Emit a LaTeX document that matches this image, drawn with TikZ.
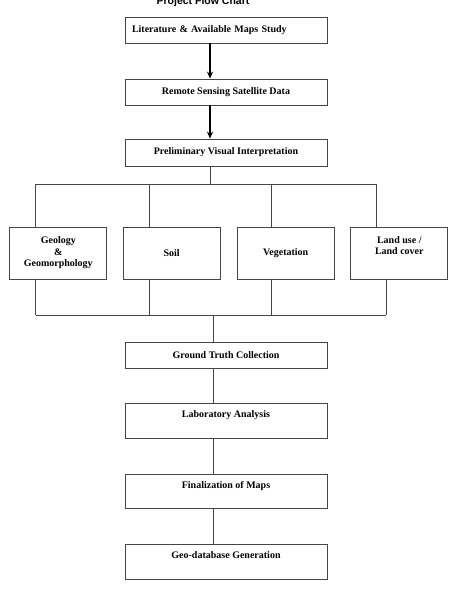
\documentclass[tikz,border=0pt]{standalone}
\usepackage{fontspec}
\setmainfont{Liberation Serif}
\newfontfamily\titlefont{Liberation Sans}
\usetikzlibrary{arrows.meta,positioning}
\definecolor{linegray}{RGB}{70,70,70}

\begin{document}
\begin{tikzpicture}[x=1pt,y=-1pt,
    box/.style={draw=linegray,line width=0.8pt,rectangle,minimum width=202pt,
      minimum height=26pt,inner sep=0pt,font=\fontsize{10}{11.5}\selectfont\bfseries},
    topbox/.style={box,anchor=north,minimum height=0pt,inner ysep=5pt,
      text height=9.5pt,text depth=15.5pt},
    theme/.style={box,minimum width=97pt,minimum height=52pt,align=center},
    link/.style={draw=linegray,line width=0.8pt},
    flow/.style={draw=black,line width=1.3pt,-{Stealth[length=7pt,width=6pt]}}]
    \useasboundingbox (0,0) rectangle (450,591);
    % Titel (oben abgeschnitten)
    \node[anchor=base,font=\titlefont\fontsize{10.5}{12}\selectfont\bfseries] (title) at (203,5) {Project Flow Chart};
    % Vorarbeiten
    \node[box,text width=188pt,inner xsep=7pt,align=left] (lit) at (226,30) {Literature \& Available Maps Study};
    \node[box] (remote) at (226,92) {Remote Sensing Satellite Data};
    \node[box,minimum height=27pt] (prelim) at (226,152.5) {Preliminary Visual Interpretation};
    \coordinate (split) at (210,184);
    \draw[flow] (lit.south -| split) -- (remote.north -| split);
    \draw[flow] (remote.south -| split) -- (prelim.north -| split);
    % Themen
    \node[theme] (geo) at (58.3,253) {Geology\\\&\\Geomorphology};
    \node[theme] (soil) at (171.7,253) {Soil};
    \node[theme] (veg) at (285.7,253) {Vegetation};
    \node[theme,text depth=15pt] (land) at (399.3,253) {Land use /\\Land cover};
    \draw[link] (prelim.south -| split) -- (split);
    \draw[link] ([xshift=-22.6pt]geo.north |- split) -- ([xshift=-22.6pt]land.north |- split);
    \coordinate (merge) at (213,315);
    \draw[link] ([xshift=-22.6pt]geo.south |- merge) -- ([xshift=-13.3pt]land.south |- merge);
    \foreach \t/\up/\down in {geo/-22.6/-22.6,soil/-22.7/-22.7,veg/-14/-14,land/-22.6/-13.3}{
      \draw[link] ([xshift=\up pt]\t.north) -- ([xshift=\up pt]\t.north |- split);
      \draw[link] ([xshift=\down pt]\t.south) -- ([xshift=\down pt]\t.south |- merge);
    }
    % Feldarbeit und Ergebnisse
    \node[box] (ground) at (226,355) {Ground Truth Collection};
    \node[topbox] (lab) at (226,403) {Laboratory Analysis};
    \node[topbox,text depth=14.5pt] (final) at (226,474) {Finalization of Maps};
    \node[topbox] (geodb) at (226,544) {Geo-database Generation};
    \draw[link] (merge) -- (ground.north -| merge);
    \draw[link] (ground.south -| merge) -- (lab.north -| merge);
    \draw[link] (lab.south -| merge) -- (final.north -| merge);
    \draw[link] (final.south -| merge) -- (geodb.north -| merge);
\end{tikzpicture}
\end{document}
